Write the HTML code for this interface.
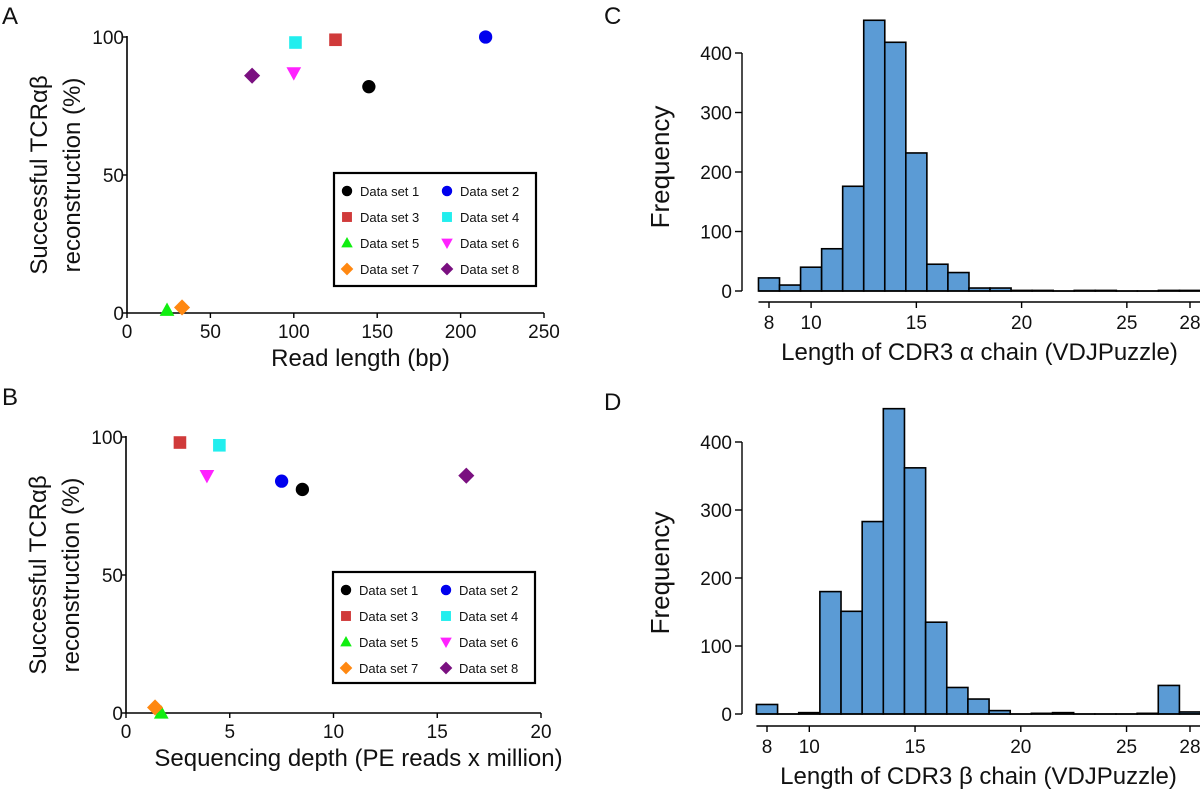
<!DOCTYPE html>
<html><head><meta charset="utf-8"><style>
html,body{margin:0;padding:0;background:#fff;}
svg{display:block;font-family:"Liberation Sans",sans-serif;}
</style></head><body>
<svg id="fig" width="1200" height="799" viewBox="0 0 1200 799" xmlns="http://www.w3.org/2000/svg"></svg>
<script>
const NS="http://www.w3.org/2000/svg";
const svg=document.getElementById('fig');
// ---- data ----
const setNames=["Data set 1","Data set 2","Data set 3","Data set 4","Data set 5","Data set 6","Data set 7","Data set 8"];
const setColors=["#000000","#0000ee","#d03a3a","#22eeee","#11ee11","#ff22ff","#ff8811","#7a1080"];
const setShapes=["circle","circle","square","square","tri","tridown","diamond","diamond"];
const readLength=[145,215,125,101,24,100,33,75];
const successA=[82,100,99,98,1,87,2,86];
const seqDepth=[8.5,7.5,2.6,4.5,1.7,3.9,1.4,16.4];
const successB=[81,84,98,97,0,86,2,86];
const xTicksA=[0,50,100,150,200,250];
const xTicksB=[0,5,10,15,20];
const yTicksScatter=[0,50,100];
const cdrLengths=[8,9,10,11,12,13,14,15,16,17,18,19,20,21,22,23,24,25,26,27,28];
const alphaFreq=[22,10,40,71,176,455,418,232,45,31,5,5,1,1,0,1,1,0,0,1,1];
const betaFreq=[14,0,2,180,151,283,449,362,135,39,22,5,0,1,2,0,0,0,1,42,3];
const histXTicks=[8,10,15,20,25,28];
const histYTicks=[0,100,200,300,400];

function el(tag,attrs,parent){const e=document.createElementNS(NS,tag);for(const k in attrs)e.setAttribute(k,attrs[k]);(parent||svg).appendChild(e);return e;}
function txt(s,attrs,parent){const e=el('text',attrs,parent);e.textContent=s;return e;}
function lin(d0,d1,r0,r1){return v=>r0+(v-d0)*(r1-r0)/(d1-d0);}

function marker(shape,cx,cy,color,s,parent){
  let e;
  if(shape==='circle')e=el('circle',{cx,cy,r:s*0.95,fill:color},parent);
  else if(shape==='square')e=el('rect',{x:cx-s*0.9,y:cy-s*0.9,width:s*1.8,height:s*1.8,fill:color},parent);
  else if(shape==='tri')e=el('polygon',{points:`${cx},${cy-s*1.1} ${cx+s*1.05},${cy+s*0.8} ${cx-s*1.05},${cy+s*0.8}`,fill:color},parent);
  else if(shape==='tridown')e=el('polygon',{points:`${cx},${cy+s*1.1} ${cx+s*1.05},${cy-s*0.8} ${cx-s*1.05},${cy-s*0.8}`,fill:color},parent);
  else e=el('polygon',{points:`${cx},${cy-s*1.15} ${cx+s*1.15},${cy} ${cx},${cy+s*1.15} ${cx-s*1.15},${cy}`,fill:color},parent);
  return e;
}

function scatter(name,xs,ys,xTicks,xMax,geom,xlabel,legendBox){
  const g=el('g',{});
  
  
  const X=lin(0,xMax,geom.x0,geom.x1),Y=lin(0,100,geom.y0,geom.y1);
  el('line',{x1:geom.x0,y1:geom.y0,x2:geom.x0,y2:geom.y1-1,stroke:'#000','stroke-width':1.6},g);
  el('line',{x1:geom.x0,y1:geom.y0,x2:geom.x1,y2:geom.y0,stroke:'#000','stroke-width':1.6},g);
  yTicksScatter.forEach(v=>{
    el('line',{x1:geom.x0-4,y1:Y(v),x2:geom.x0,y2:Y(v),stroke:'#000','stroke-width':1.4},g);
    const t=txt(String(v),{x:geom.x0-3,y:Y(v)+7,'text-anchor':'end','font-size':19,fill:'#111'},g);
    
    
  });
  xTicks.forEach(v=>{
    el('line',{x1:X(v),y1:geom.y0,x2:X(v),y2:geom.y0+5,stroke:'#000','stroke-width':1.4},g);
    const t=txt(String(v),{x:X(v),y:geom.y0+25,'text-anchor':'middle','font-size':19,fill:'#111'},g);
    
    
  });
  const xl=txt(xlabel,{x:(geom.x0+geom.x1)/2+25,y:geom.y0+53,'text-anchor':'middle','font-size':24,fill:'#111'},g);
  
  
  const cy=(geom.y0+geom.y1)/2;
  const yl=el('text',{transform:`translate(${geom.x0-80},${cy}) rotate(-90)`,'text-anchor':'middle','font-size':24,fill:'#111'},g);
  
  
  const t1=el('tspan',{x:0,dy:0},yl);t1.textContent='Successful TCRαβ';
  const t2=el('tspan',{x:0,dy:33},yl);t2.textContent='reconstruction (%)';
  xs.forEach((v,i)=>{
    const m=marker(setShapes[i],X(v),Y(ys[i]),setColors[i],7,g);
    
    
  });
  const lg=el('g',{},g);
  
  
  el('rect',{x:legendBox.x,y:legendBox.y,width:legendBox.w,height:legendBox.h,fill:'#fff',stroke:'#000','stroke-width':2.2},lg);
  setNames.forEach((n,i)=>{
    const col=i%2,row=Math.floor(i/2);
    const mx=legendBox.x+13+col*100,my=legendBox.y+18+row*26;
    const it=el('g',{},lg);
    
    
    marker(setShapes[i],mx,my,setColors[i],5.5,it);
    txt(n,{x:mx+13,y:my+5,'font-size':13,fill:'#111'},it);
  });
}

function hist(name,freqs,geom,xlabel){
  const g=el('g',{});
  
  
  const X=lin(8,28,geom.x8,geom.x28),Y=lin(0,400,geom.y0,geom.y400);
  const bw=(geom.x28-geom.x8)/20;
  cdrLengths.forEach((L,i)=>{
    const h=geom.y0-Y(freqs[i]);
    const r=el('rect',{x:X(L)-bw/2,y:Y(freqs[i]),width:bw,height:Math.max(h,0.01),fill:'#5b9bd5',stroke:'#000','stroke-width':1.6},g);
    
    
  });
  el('line',{x1:X(8)-bw/2,y1:geom.y0,x2:X(28)+bw/2,y2:geom.y0,stroke:'#000','stroke-width':1.6},g);
  el('line',{x1:geom.ax,y1:geom.y0,x2:geom.ax,y2:Y(400),stroke:'#000','stroke-width':1.4},g);
  histYTicks.forEach(v=>{
    el('line',{x1:geom.ax-7,y1:Y(v),x2:geom.ax,y2:Y(v),stroke:'#000','stroke-width':1.4},g);
    const t=txt(String(v),{x:geom.ax-10,y:Y(v)+7,'text-anchor':'end','font-size':19,fill:'#111'},g);
    
    
  });
  el('line',{x1:X(8)-bw/2,y1:geom.xa,x2:1200,y2:geom.xa,stroke:'#000','stroke-width':1.4},g);
  histXTicks.forEach(v=>{
    el('line',{x1:X(v),y1:geom.xa,x2:X(v),y2:geom.xa+6,stroke:'#000','stroke-width':1.4},g);
    const t=txt(String(v),{x:X(v),y:geom.xa+27,'text-anchor':'middle','font-size':19,fill:'#111'},g);
    
    
  });
  const xl=txt(xlabel,{x:(X(8)+X(28))/2,y:geom.xa+58,'text-anchor':'middle','font-size':24,fill:'#111'},g);
  
  
  const yl=txt('Frequency',{transform:`translate(${geom.ax-73},${(geom.y0+Y(400))/2-5}) rotate(-90)`,'text-anchor':'middle','font-size':26,fill:'#111'},g);
  
  
}

[['A',2,24],['B',2,405],['C',604,24],['D',604,410]].forEach(p=>{
  const t=txt(p[0],{x:p[1],y:p[2],'font-size':24,fill:'#111'});
  
  
});

scatter('panel-a-scatter',readLength,successA,xTicksA,250,{x0:127,x1:544,y0:313,y1:37},'Read length (bp)',{x:334,y:173,w:202,h:113});
scatter('panel-b-scatter',seqDepth,successB,xTicksB,20,{x0:126,x1:541,y0:713,y1:437},'Sequencing depth (PE reads x million)',{x:333,y:572,w:202,h:111});
hist('panel-c-histogram',alphaFreq,{x8:769,x28:1190,y0:291,y400:53,ax:742,xa:302},'Length of CDR3 α chain (VDJPuzzle)');
hist('panel-d-histogram',betaFreq,{x8:767,x28:1190,y0:714,y400:442,ax:742,xa:726},'Length of CDR3 β chain (VDJPuzzle)');
</script>
</body></html>
